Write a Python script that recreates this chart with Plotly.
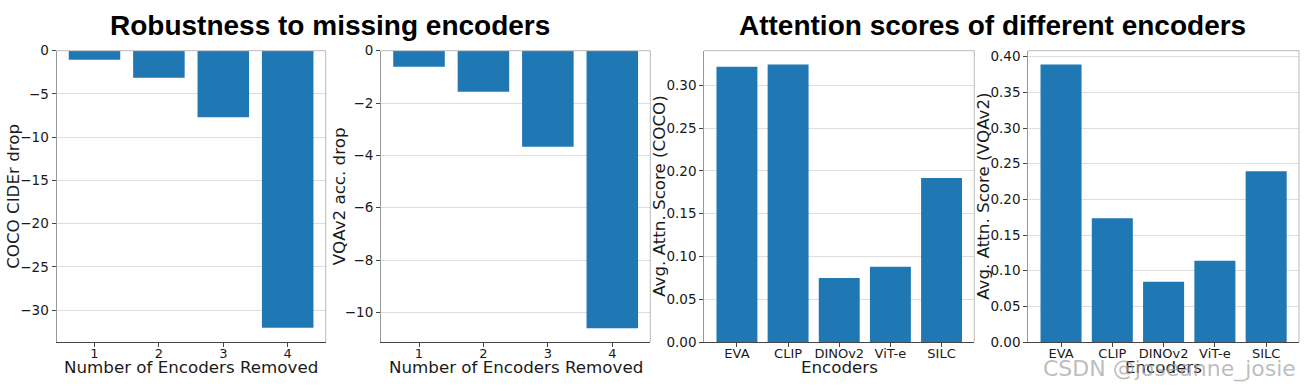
import plotly.graph_objects as go

W, H = 1306, 391

removed = ["1", "2", "3", "4"]
coco_drop = [-1.04, -3.12, -7.7, -32.06]
vqa_drop = [-0.61, -1.57, -3.67, -10.6]

encoders = ["EVA", "CLIP", "DINOv2", "ViT-e", "SILC"]
attn_coco = [0.3217, 0.3245, 0.0748, 0.088, 0.1917]
attn_vqa = [0.3893, 0.1734, 0.0846, 0.114, 0.2393]

coco_ticks = [0, -5, -10, -15, -20, -25, -30]
vqa_ticks = [0, -2, -4, -6, -8, -10]
attn_coco_ticks = [0.0, 0.05, 0.10, 0.15, 0.20, 0.25, 0.30]
attn_vqa_ticks = [0.0, 0.05, 0.10, 0.15, 0.20, 0.25, 0.30, 0.35, 0.40]

BLUE = "#1f77b4"
FONT = "DejaVu Sans"
TXT = "#1a1a1a"

# panel pixel boxes (left, right) and y-title x centres
panels = [(56.5, 325.7), (381, 650.3), (704.2, 974.3), (1028.2, 1299)]
ytitle_x = [13.5, 339, 659.5, 983.5]
top_px, bot_px = 50.7, 342
ydom = [1 - bot_px / H, 1 - top_px / H]

fig = go.Figure()

series = [
    (removed, coco_drop, [-33.7, 0], coco_ticks, [str(t).replace("-", "\u2212") for t in coco_ticks],
     "Number of Encoders Removed", "COCO CIDEr drop"),
    (removed, vqa_drop, [-11.13, 0], vqa_ticks, [str(t).replace("-", "\u2212") for t in vqa_ticks],
     "Number of Encoders Removed", "VQAv2 acc. drop"),
    (encoders, attn_coco, [0, 0.3405], attn_coco_ticks, ["%.2f" % t for t in attn_coco_ticks],
     "Encoders", "Avg. Attn. Score (COCO)"),
    (encoders, attn_vqa, [0, 0.4085], attn_vqa_ticks, ["%.2f" % t for t in attn_vqa_ticks],
     "Encoders", "Avg. Attn. Score (VQAv2)"),
]

for i, (cats, vals, yr, tv, tt, xt, yt) in enumerate(series):
    n = i + 1
    xa = "x" if n == 1 else "x%d" % n
    ya = "y" if n == 1 else "y%d" % n
    fig.add_trace(go.Bar(x=cats, y=vals, xaxis=xa, yaxis=ya, marker_color=BLUE,
                         marker_line_width=0, width=0.8, showlegend=False, hoverinfo="skip"))
    l, r = panels[i]
    k = len(cats)
    span = (k - 1) + 0.8
    pad = 0.05 * span
    xr = [-0.4 - pad, (k - 1) + 0.4 + pad]
    xkey = "xaxis" if n == 1 else "xaxis%d" % n
    ykey = "yaxis" if n == 1 else "yaxis%d" % n
    fig.layout[xkey] = dict(domain=[l / W, r / W], anchor=ya, range=xr, type="category",
                            showline=True, linecolor="#444444", linewidth=1, showgrid=False,
                            ticks="outside", ticklen=4, tickcolor="#444444", tickangle=0,
                            ticklabelstandoff=-5, automargin=False,
                            tickfont=dict(family=FONT, size=13, color=TXT),
                            zeroline=False, fixedrange=True)
    fig.layout[ykey] = dict(domain=ydom, anchor=xa, range=yr, tickvals=tv, ticktext=tt,
                            showline=True, linecolor="#999999", linewidth=1,
                            showgrid=True, gridcolor="#dddddd", gridwidth=1,
                            ticks="outside", ticklen=4, tickcolor="#444444",
                            automargin=False,
                            tickfont=dict(family=FONT, size=13.5, color=TXT),
                            zeroline=False, fixedrange=True)
    # top and right spines (lighter)
    fig.add_shape(type="line", xref="paper", yref="paper", x0=l / W, x1=r / W, y0=ydom[1], y1=ydom[1],
                  line=dict(color="#bbbbbb", width=1))
    fig.add_shape(type="line", xref="paper", yref="paper", x0=r / W, x1=r / W, y0=ydom[0], y1=ydom[1],
                  line=dict(color="#bbbbbb", width=1))
    # axis titles
    fig.add_annotation(text=xt, x=(l + r) / 2 / W, y=1 - 367 / H, xref="paper", yref="paper",
                       xanchor="center", yanchor="middle", showarrow=False,
                       font=dict(family=FONT, size=16.7, color=TXT))
    fig.add_annotation(text=yt, x=ytitle_x[i] / W, y=(ydom[0] + ydom[1]) / 2, xref="paper", yref="paper",
                       xanchor="center", yanchor="middle", showarrow=False, textangle=-90,
                       font=dict(family=FONT, size=16.7, color=TXT))

fig.add_annotation(text="<b>Robustness to missing encoders</b>", x=330 / W, y=1 - 25.5 / H,
                   xref="paper", yref="paper", showarrow=False, xanchor="center", yanchor="middle",
                   font=dict(family="Liberation Sans", size=28, color="black"))
fig.add_annotation(text="<b>Attention scores of different encoders</b>", x=992.6 / W, y=1 - 25.5 / H,
                   xref="paper", yref="paper", showarrow=False, xanchor="center", yanchor="middle",
                   font=dict(family="Liberation Sans", size=28, color="black"))
fig.add_annotation(text="CSDN @joseanne_josie", x=1298 / W, y=1 - 369 / H, xref="paper", yref="paper",
                   xanchor="right", yanchor="middle", showarrow=False,
                   font=dict(family="DejaVu Sans", size=22, color="rgba(160,160,160,0.7)"))

fig.update_layout(width=W, height=H, margin=dict(l=0, r=0, t=0, b=0, autoexpand=False),
                  plot_bgcolor="white", paper_bgcolor="white", bargap=0.2)

fig.write_html("out.html", config={"displayModeBar": False},
               post_script="document.body.style.margin='0';document.body.style.overflow='hidden';")
